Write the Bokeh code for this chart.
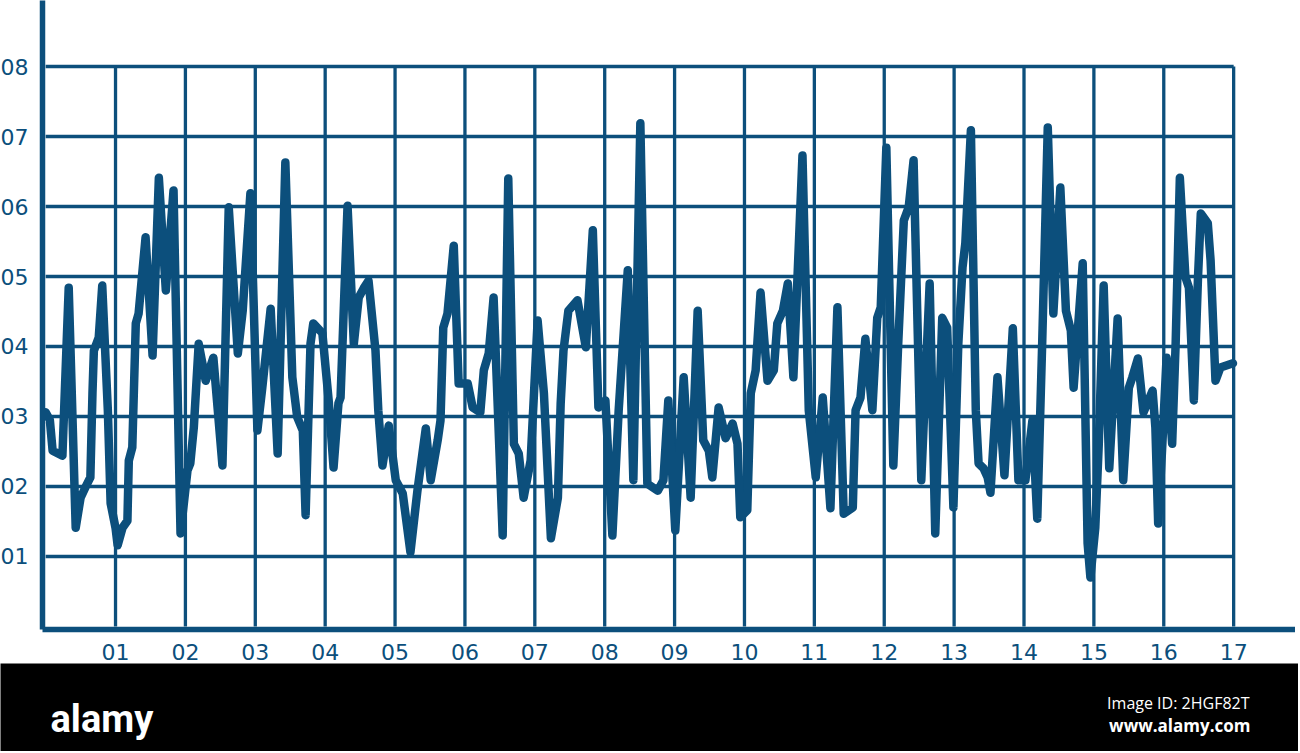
from bokeh.plotting import figure
from bokeh.layouts import column
from bokeh.models import FixedTicker, Label, Range1d
from bokeh.embed import file_html
from bokeh.resources import INLINE

# ---- tick values and labels ----
x_ticks = [1, 2, 3, 4, 5, 6, 7, 8, 9, 10, 11, 12, 13, 14, 15, 16, 17]
x_tick_labels = ["01", "02", "03", "04", "05", "06", "07", "08", "09",
                 "10", "11", "12", "13", "14", "15", "16", "17"]
y_ticks = [1, 2, 3, 4, 5, 6, 7, 8]
y_tick_labels = ["01", "02", "03", "04", "05", "06", "07", "08"]

# ---- the traced signal ----
signal_x = [
    0.00, 0.06, 0.10, 0.24, 0.33, 0.43, 0.50, 0.57, 0.64, 0.67, 0.69, 0.76, 0.81, 0.89, 0.93,
    1.00, 1.03, 1.10, 1.17, 1.19, 1.24, 1.29, 1.33, 1.43, 1.53, 1.62, 1.72, 1.83, 1.93,
    2.03, 2.07, 2.12, 2.19, 2.29, 2.40, 2.53, 2.62, 2.75, 2.82, 2.93,
    3.03, 3.10, 3.22, 3.32, 3.43, 3.53, 3.60, 3.68, 3.72, 3.79, 3.83, 3.96,
    4.05, 4.12, 4.19, 4.22, 4.32, 4.41, 4.48, 4.55, 4.62, 4.72, 4.76, 4.82, 4.91,
    5.01, 5.11, 5.22, 5.32, 5.44, 5.51, 5.61, 5.65, 5.69, 5.75, 5.84, 5.91,
    6.04, 6.11, 6.22, 6.27, 6.34, 6.41, 6.54, 6.62, 6.70, 6.77, 6.84, 6.94,
    7.04, 7.13, 7.23, 7.33, 7.37, 7.41, 7.48, 7.61, 7.73, 7.83, 7.91,
    8.01, 8.11, 8.20, 8.33, 8.41, 8.51, 8.61, 8.76, 8.84, 8.91,
    9.01, 9.13, 9.23, 9.33, 9.41, 9.49, 9.54, 9.63, 9.73, 9.83, 9.90, 9.94,
    10.04, 10.09, 10.16, 10.23, 10.33, 10.42, 10.47, 10.55, 10.62, 10.70, 10.83, 10.92,
    11.02, 11.12, 11.23, 11.33, 11.42, 11.55, 11.59, 11.66, 11.73, 11.83, 11.90, 11.95,
    12.03, 12.13, 12.20, 12.28, 12.35, 12.42, 12.53, 12.65, 12.73, 12.83, 12.90, 12.99,
    13.06, 13.12, 13.16, 13.24, 13.31, 13.35, 13.42, 13.48, 13.52, 13.62, 13.72, 13.84, 13.92,
    14.02, 14.12, 14.19, 14.26, 14.34, 14.42, 14.52, 14.60, 14.67, 14.71, 14.84, 14.91, 14.95,
    15.02, 15.07, 15.14, 15.22, 15.34, 15.42, 15.50, 15.55, 15.63, 15.71, 15.84, 15.88, 15.92, 15.98,
    16.04, 16.12, 16.17, 16.23, 16.31, 16.36, 16.43, 16.49, 16.53, 16.63, 16.67, 16.74, 16.81, 16.99,
]
signal_y = [
    3.06, 2.95, 2.51, 2.44, 4.84, 1.41, 1.84, 1.99, 2.13, 3.33, 3.94, 4.13, 4.87, 3.09, 1.76,
    1.41, 1.16, 1.41, 1.51, 2.37, 2.56, 4.33, 4.47, 5.56, 3.87, 6.41, 4.80, 6.23, 1.33,
    2.23, 2.33, 2.84, 4.04, 3.51, 3.84, 2.30, 5.99, 3.90, 4.51, 6.19,
    2.80, 3.41, 4.54, 2.47, 6.63, 3.56, 2.99, 2.80, 1.59, 4.04, 4.33, 4.19,
    3.23, 2.27, 3.19, 3.27, 6.01, 4.04, 4.70, 4.83, 4.94, 3.94, 3.09, 2.30, 2.87,
    2.09, 1.90, 1.06, 1.94, 2.83, 2.09, 2.66, 2.94, 4.27, 4.47, 5.44, 3.47,
    3.47, 3.13, 3.06, 3.66, 3.90, 4.70, 1.30, 6.40, 2.61, 2.47, 1.84, 2.37,
    4.37, 3.33, 1.26, 1.84, 3.19, 3.94, 4.51, 4.66, 3.99, 5.66, 3.13,
    3.23, 1.30, 3.09, 5.09, 2.09, 7.19, 2.04, 1.94, 2.09, 3.23,
    1.37, 3.56, 1.84, 4.51, 2.66, 2.51, 2.13, 3.13, 2.69, 2.90, 2.61, 1.56,
    1.66, 3.33, 3.66, 4.77, 3.51, 3.66, 4.33, 4.51, 4.90, 3.56, 6.73, 3.09,
    2.13, 3.27, 1.69, 4.56, 1.61, 1.70, 3.09, 3.27, 4.11, 3.09, 4.41, 4.56,
    6.84, 2.30, 4.04, 5.80, 5.99, 6.66, 2.09, 4.90, 1.33, 4.41, 4.27, 1.70,
    4.04, 5.13, 5.47, 7.09, 3.09, 2.33, 2.26, 2.13, 1.91, 3.56, 2.16, 4.26, 2.09,
    2.09, 2.94, 1.54, 4.04, 7.13, 4.47, 6.27, 4.51, 4.23, 3.41, 5.19, 1.19, 0.70,
    1.41, 2.61, 4.87, 2.26, 4.40, 2.09, 3.41, 3.56, 3.83, 3.06, 3.37, 2.84, 1.47, 2.61,
    3.84, 2.61, 4.04, 6.41, 4.99, 4.84, 3.23, 4.99, 5.90, 5.76, 5.23, 3.51, 3.70, 3.76,
]

BLUE = "#0c4f7c"
LABEL_FONT = "DejaVu Sans"

p = figure(width=1301, height=663,
           x_range=Range1d(-0.045, 17.885), y_range=Range1d(-0.043, 8.943),
           output_backend="svg", toolbar_location=None,
           min_border_left=40, min_border_right=0, min_border_top=0, min_border_bottom=34,
           outline_line_color=None, background_fill_color="white", border_fill_color="white",
           margin=(0, 0, 0, -3))
p.grid.visible = False

# grid drawn only inside the 0..17 x 0..8 box
p.segment(x0=x_ticks, y0=0, x1=x_ticks, y1=y_ticks[-1], line_color=BLUE, line_width=3.3)
p.segment(x0=0, y0=y_ticks, x1=x_ticks[-1], y1=y_ticks, line_color=BLUE, line_width=3.3)

p.line(signal_x, signal_y, line_color=BLUE, line_width=8.5,
       line_join="round", line_cap="round")

for ax, ticks, labels in ((p.xaxis, x_ticks, x_tick_labels), (p.yaxis, y_ticks, y_tick_labels)):
    ax.ticker = FixedTicker(ticks=ticks)
    ax.major_label_overrides = dict(zip(ticks, labels))
    ax.axis_line_color = BLUE
    ax.axis_line_width = 5.5
    ax.major_tick_line_color = None
    ax.minor_tick_line_color = None
    ax.major_tick_out = 0
    ax.major_tick_in = 0
    ax.major_label_text_color = BLUE
    ax.major_label_text_font = LABEL_FONT
    ax.major_label_text_font_size = "22px"
p.xaxis.major_label_standoff = 14
p.yaxis.major_label_standoff = 14

# black credit band at the bottom
b = figure(width=1298, height=88, x_range=Range1d(0, 1298), y_range=Range1d(88, 0),
           output_backend="svg", toolbar_location=None, min_border=0,
           min_border_left=0, min_border_right=0, min_border_top=0, min_border_bottom=0,
           background_fill_color="black", border_fill_color="black",
           outline_line_color=None, x_axis_type=None, y_axis_type=None)
b.grid.visible = False
for fig in (p, b):
    try:
        fig.frame_align = False
    except AttributeError:
        pass

b.add_layout(Label(x=50, y=55, text="alamy", text_color="white",
                   text_font="Roboto", text_font_style="bold",
                   text_font_size="38px", text_align="left", text_baseline="alphabetic"))
b.add_layout(Label(x=1249, y=39, text="Image ID: 2HGF82T", text_color="white",
                   text_font="Open Sans", text_font_size="16px",
                   text_align="right", text_baseline="alphabetic"))
b.add_layout(Label(x=1250, y=62, text="www.alamy.com", text_color="white",
                   text_font="Open Sans", text_font_style="bold", text_font_size="17px",
                   text_align="right", text_baseline="alphabetic"))

layout = column(p, b, spacing=0)
open("out.html", "w").write(file_html(layout, INLINE))
